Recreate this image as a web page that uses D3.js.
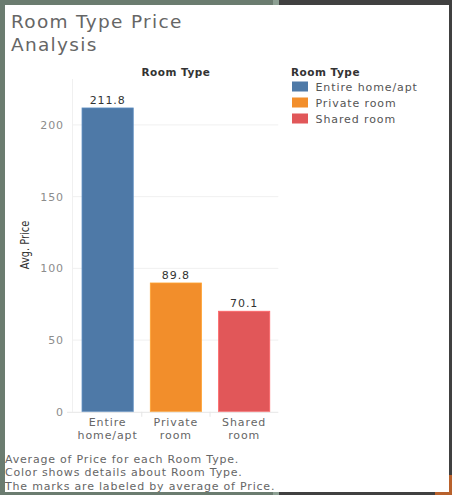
<!DOCTYPE html>
<html>
<head>
<meta charset="utf-8">
<script src="https://cdn.jsdelivr.net/npm/d3@7"></script>
<style>
  body { margin: 0; background: #fff; }
  text { font-family: "DejaVu Sans", Verdana, sans-serif; }
</style>
</head>
<body>
<svg id="chart"></svg>
<script>
// data
const roomTypes = ["Entire home/apt", "Private room", "Shared room"];
const avgPrice = [211.8, 89.8, 70.1];
const xLabelLines = [["Entire", "home/apt"], ["Private", "room"], ["Shared", "room"]];
const yTicks = [0, 50, 100, 150, 200];
const colors = ["#4e79a7", "#f28e2b", "#e15759"];
const titleLines = ["Room Type Price", "Analysis"];
const captionLines = [
  "Average of Price for each Room Type.",
  "Color shows details about Room Type.",
  "The marks are labeled by average of Price."
];

const width = 452, height = 495;
const pane = { left: 73.5, right: 278.3, top: 79, bottom: 411.8 };

const svg = d3.select("#chart")
  .attr("width", width)
  .attr("height", height);

// outer frame (screenshot edges)
svg.append("rect").attr("width", width).attr("height", height).attr("fill", "#6b7c70");
svg.append("rect").attr("x", 273).attr("width", 6).attr("height", height).attr("fill", "#8da093");
svg.append("rect").attr("x", 279).attr("width", width - 279).attr("height", height).attr("fill", "#404040");
svg.append("rect").attr("x", 435).attr("y", 475).attr("width", 17).attr("height", 20).attr("fill", "#b8612c");
svg.append("rect").attr("x", 5).attr("y", 5).attr("width", 444).attr("height", 487).attr("fill", "#fff");

// title
svg.append("g")
  .selectAll("text")
  .data(titleLines)
  .enter()
  .append("text")
  .attr("x", 11)
  .attr("y", (d, i) => 28.3 + i * 22.4)
  .attr("font-size", "18.5px")
  .attr("letter-spacing", "1.3px")
  .attr("fill", "#666")
  .text(d => d);

// scales
const xScale = d3.scaleBand()
  .domain(roomTypes)
  .range([pane.left, pane.right])
  .paddingInner(0.25)
  .paddingOuter(0.125);

const yScale = d3.scaleLinear()
  .domain([0, 232])
  .range([pane.bottom, pane.top]);

// column header
svg.append("text")
  .attr("x", (pane.left + pane.right) / 2)
  .attr("y", 75.5)
  .attr("text-anchor", "middle")
  .attr("font-size", "10.5px")
  .attr("font-weight", "bold")
  .attr("letter-spacing", "0.5px")
  .attr("fill", "#333")
  .text("Room Type");

// gridlines
svg.append("g")
  .selectAll("line")
  .data(yTicks.filter(d => d > 0))
  .enter()
  .append("line")
  .attr("x1", 72)
  .attr("x2", pane.right)
  .attr("y1", d => yScale(d))
  .attr("y2", d => yScale(d))
  .attr("stroke", "#f0f0f0");

// pane left edge
svg.append("line")
  .attr("x1", 72.5).attr("x2", 72.5)
  .attr("y1", pane.top).attr("y2", pane.bottom)
  .attr("stroke", "#f0f0f0");

// y axis
const yAxis = d3.axisLeft(yScale).tickValues(yTicks).tickSize(0).tickPadding(0);
const yG = svg.append("g")
  .attr("transform", "translate(64,0)")
  .call(yAxis);
yG.select(".domain").remove();
yG.selectAll("text")
  .attr("font-family", "DejaVu Sans, sans-serif")
  .attr("font-size", "11px")
  .attr("letter-spacing", "0.9px")
  .attr("fill", "#8c8c8c");

// narrow axis title (condensed by scaling along the text direction)
svg.append("text")
  .attr("transform", "translate(28.5,245) rotate(-90) scale(0.82,1)")
  .attr("text-anchor", "middle")
  .attr("font-family", "'Liberation Sans', Arial, sans-serif")
  .attr("font-size", "12px")
  .attr("fill", "#333")
  .text("Avg. Price");

// bars
svg.append("g")
  .selectAll("rect")
  .data(roomTypes)
  .enter()
  .append("rect")
  .attr("x", d => xScale(d))
  .attr("y", (d, i) => yScale(avgPrice[i]))
  .attr("width", xScale.bandwidth())
  .attr("height", (d, i) => yScale(0) - yScale(avgPrice[i]))
  .attr("fill", (d, i) => colors[i])
  .attr("stroke", (d, i) => d3.color(colors[i]).brighter(0.4))
  .attr("stroke-width", 0.8);

// value labels
svg.append("g")
  .selectAll("text")
  .data(roomTypes)
  .enter()
  .append("text")
  .attr("x", d => xScale(d) + xScale.bandwidth() / 2)
  .attr("y", (d, i) => yScale(avgPrice[i]) - 4)
  .attr("text-anchor", "middle")
  .attr("font-size", "11px")
  .attr("letter-spacing", "0.9px")
  .attr("fill", "#333")
  .text((d, i) => avgPrice[i].toFixed(1));

// x axis baseline and band separators
svg.append("line")
  .attr("x1", 67).attr("x2", pane.right)
  .attr("y1", pane.bottom + 0.5).attr("y2", pane.bottom + 0.5)
  .attr("stroke", "#e6e6e6");
svg.append("g")
  .selectAll("line")
  .data(roomTypes.slice(1))
  .enter()
  .append("line")
  .attr("x1", d => xScale(d) - xScale.step() * 0.125)
  .attr("x2", d => xScale(d) - xScale.step() * 0.125)
  .attr("y1", pane.bottom)
  .attr("y2", pane.bottom + 5)
  .attr("stroke", "#e6e6e6");

// x labels
const xl = svg.append("g")
  .selectAll("text")
  .data(roomTypes)
  .enter()
  .append("text")
  .attr("text-anchor", "middle")
  .attr("font-size", "11px")
  .attr("letter-spacing", "0.9px")
  .attr("fill", "#666");
xl.selectAll("tspan")
  .data((d, i) => xLabelLines[i].map(t => ({ t, x: xScale(d) + xScale.bandwidth() / 2 })))
  .enter()
  .append("tspan")
  .attr("x", d => d.x)
  .attr("y", (d, j) => 425.5 + j * 13)
  .text(d => d.t);

// legend
const legend = svg.append("g").attr("transform", "translate(291,0)");
legend.append("text")
  .attr("x", 0)
  .attr("y", 75.5)
  .attr("font-size", "10.5px")
  .attr("font-weight", "bold")
  .attr("letter-spacing", "0.5px")
  .attr("fill", "#333")
  .text("Room Type");
const items = legend.selectAll("g.item")
  .data(roomTypes)
  .enter()
  .append("g")
  .attr("class", "item")
  .attr("transform", (d, i) => `translate(0,${81.5 + i * 16})`);
items.append("rect")
  .attr("x", 1)
  .attr("width", 16)
  .attr("height", 10)
  .attr("fill", (d, i) => colors[i]);
items.append("text")
  .attr("x", 24.5)
  .attr("y", 9.5)
  .attr("font-size", "11px")
  .attr("letter-spacing", "0.9px")
  .attr("fill", "#555")
  .text(d => d);

// caption
svg.append("g")
  .selectAll("text")
  .data(captionLines)
  .enter()
  .append("text")
  .attr("x", 5)
  .attr("y", (d, i) => 462.7 + i * 13.4)
  .attr("font-size", "11px")
  .attr("letter-spacing", "0.8px")
  .attr("fill", "#666")
  .text(d => d);
</script>
</body>
</html>
